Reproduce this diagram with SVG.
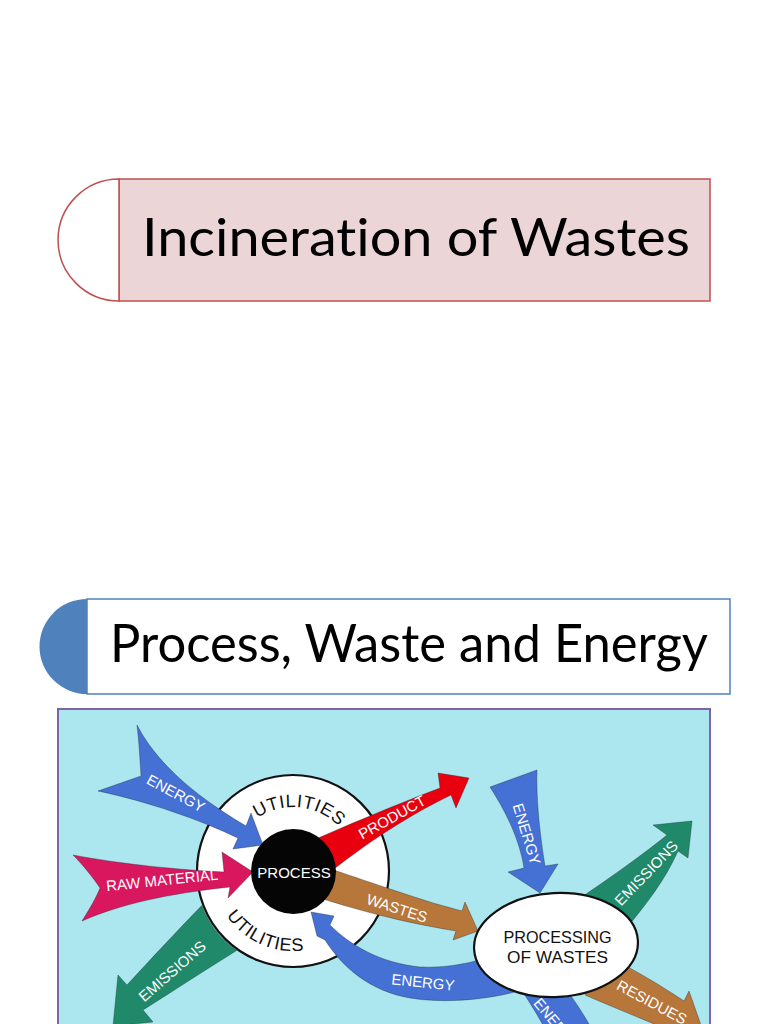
<svg xmlns="http://www.w3.org/2000/svg" width="768" height="1024" viewBox="0 0 768 1024">
  <defs>
    <style>
      .title{font-family:Lato,"Open Sans","Liberation Sans",sans-serif;font-size:53px;fill:#000;font-variant-ligatures:none;font-feature-settings:"liga" 0,"clig" 0}
      .lbl{font-family:"Liberation Sans",Arial,sans-serif;font-size:15px;fill:#fff;text-anchor:middle}
      .dark{font-family:"Liberation Sans",Arial,sans-serif;fill:#111}
      .arrow{stroke:#1c2430;stroke-opacity:.35;stroke-width:1;stroke-linejoin:round}
      .blue{fill:#4570D4}
      .mag{fill:#D8175E}
      .red{fill:#E8000E}
      .brown{fill:#B7763A}
      .green{fill:#20896A}
    </style>
    <path id="arcTop" d="M253.6,820.6 A64,64 0 0 1 342,829.9"/>
    <path id="arcBot" d="M223.7,911 A80,80 0 0 0 309.6,949.3"/>
  </defs>

  <rect width="768" height="1024" fill="#fff"/>

  <!-- first heading -->
  <g id="title-incineration">
    <rect x="119" y="179" width="591" height="122" fill="#EBD5D6" stroke="#C0504D" stroke-width="1.5"/>
    <path d="M119,179 A61,61 0 0 0 119,301 Z" fill="#fff" stroke="#C0504D" stroke-width="1.5"/>
    <text class="title" x="142" y="256" textLength="548" lengthAdjust="spacingAndGlyphs">Incineration of Wastes</text>
  </g>

  <!-- second heading -->
  <g id="title-process">
    <rect x="87" y="599" width="643" height="95" fill="#fff" stroke="#4F81BD" stroke-width="1.5"/>
    <path d="M87,599 A47.5,47.5 0 0 0 87,694 Z" fill="#4F81BD"/>
    <text class="title" x="110" y="662" textLength="598" lengthAdjust="spacingAndGlyphs">Process, Waste and Energy</text>
  </g>

  <!-- diagram background panel -->
  <g id="panel">
    <rect x="58" y="709" width="652" height="340" fill="#ACE6EF" stroke="#8064A2" stroke-width="2"/>
  </g>

  <!-- utilities ring -->
  <g id="utilities">
    <circle cx="293" cy="871" r="96" fill="#fff" stroke="#111" stroke-width="2.2"/>
    <text class="dark" font-size="18" letter-spacing="0.6"><textPath href="#arcTop" startOffset="50%" text-anchor="middle">UTILITIES</textPath></text>
    <text class="dark" font-size="18" letter-spacing="0.6"><textPath href="#arcBot" startOffset="50%" text-anchor="middle">UTILITIES</textPath></text>
  </g>

  <!-- flow arrows -->
  <g id="connectors">
    <!-- emissions leaving the utilities ring -->
    <g id="arrow-emissions-left">
      <path class="arrow green" d="M201.8,905.5 C175,933 150,960 127,985 L118,975 L113,1026 L153,1022 L143,1010 C175,990 205,970 236.6,950.6 A97.5,97.5 0 0 1 201.8,905.5 Z"/>
      <text class="lbl" font-size="16" transform="translate(172,971) rotate(-41)" y="5.5">EMISSIONS</text>
    </g>
    <!-- energy into process -->
    <g id="arrow-energy-in">
      <path class="arrow blue" d="M137,725 C155,760 190,793 246,826 L251,813 L263,845 L233,849 L238,838 C200,820 150,802 98,791 L141,776 C140,760 139,742 137,725 Z"/>
      <text class="lbl" font-size="15" transform="translate(176,793) rotate(28)" y="5.5">ENERGY</text>
    </g>
    <!-- raw material into process -->
    <g id="arrow-raw-material">
      <path class="arrow mag" d="M73,855 C120,864 180,870 224,872 L222,852 L253,872 L228,898 L230,887 C185,892 130,900 82,921 C90,908 96,898 100,888 C92,876 82,864 73,855 Z"/>
      <text class="lbl" font-size="15" transform="translate(162,880) rotate(-6)" y="5.5">RAW MATERIAL</text>
    </g>
    <!-- product out of process -->
    <g id="arrow-product">
      <path class="arrow red" d="M300,846 C345,826 395,805 440,788 L438,773 L469,778 L456,808 L451,795 C410,815 370,840 320,880 Z"/>
      <text class="lbl" font-size="16" transform="translate(392,817) rotate(-29)" y="5.5">PRODUCT</text>
    </g>
    <!-- wastes to processing -->
    <g id="arrow-wastes">
      <path class="arrow brown" d="M310,862 C340,872 380,886 433,903 L462,911 L465,902 L478,931 L453,940 L456,931 C420,925 380,917 320,898 Z"/>
      <text class="lbl" font-size="15.5" transform="translate(397,908) rotate(18)" y="5.5">WASTES</text>
    </g>
    <!-- energy recovered back to process -->
    <g id="arrow-energy-return">
      <path class="arrow blue" d="M311,912 L334,916 L330,925 C350,945 380,963 420,967 C445,968 470,964 495,955 L515,992 C480,1001 440,1003 410,998 C370,991 343,968 325,940 L317,936 Z"/>
      <text class="lbl" font-size="15.5" transform="translate(423,982) rotate(6)" y="5.5">ENERGY</text>
    </g>
    <!-- energy into processing of wastes -->
    <g id="arrow-energy-processing">
      <path class="arrow blue" d="M490,787 L537,770 C536,800 540,835 545,866 L558,864 L540,893 L508,872 L524,868 C520,840 505,810 490,787 Z"/>
      <text class="lbl" font-size="15" transform="translate(527,834) rotate(73)" y="5.5">ENERGY</text>
    </g>
    <!-- emissions from processing of wastes -->
    <g id="arrow-emissions-right">
      <path class="arrow green" d="M570,905 C610,878 645,853 667,835 L653,825 L692,821 L688,858 L678,851 C665,880 648,902 625,930 Z"/>
      <text class="lbl" font-size="16" transform="translate(646,873) rotate(-46)" y="5.5">EMISSIONS</text>
    </g>
    <!-- energy leaving downwards -->
    <g id="arrow-energy-out">
      <path class="arrow blue" d="M512,975 L560,980 C570,995 582,1010 595,1035 L548,1035 C540,1018 528,1000 512,975 Z"/>
      <text class="lbl" font-size="15" style="text-anchor:start" transform="translate(537,1000) rotate(50)" y="5.5">ENERGY</text>
    </g>
    <!-- residues -->
    <g id="arrow-residues">
      <path class="arrow brown" d="M605,955 C635,970 660,985 684,1001 L689,991 L708,1045 L655,1040 L666,1029 C640,1018 615,1008 585,995 Z"/>
      <text class="lbl" font-size="15.5" transform="translate(652,1002) rotate(28)" y="5.5">RESIDUES</text>
    </g>
  </g>

  <!-- central process -->
  <g id="process">
    <circle cx="293.5" cy="871.5" r="42.5" fill="#050505"/>
    <text class="lbl" font-size="17" x="294" y="878">PROCESS</text>
  </g>

  <!-- processing of wastes -->
  <g id="processing-of-wastes">
    <ellipse cx="556" cy="945" rx="82" ry="52" transform="rotate(-3 556 945)" fill="#fff" stroke="#111" stroke-width="2.2"/>
    <text class="dark" font-size="17" x="557.5" y="943" text-anchor="middle" textLength="108" lengthAdjust="spacingAndGlyphs">PROCESSING</text>
    <text class="dark" font-size="17" x="557.5" y="963" text-anchor="middle" textLength="101" lengthAdjust="spacingAndGlyphs">OF WASTES</text>
  </g>
</svg>
